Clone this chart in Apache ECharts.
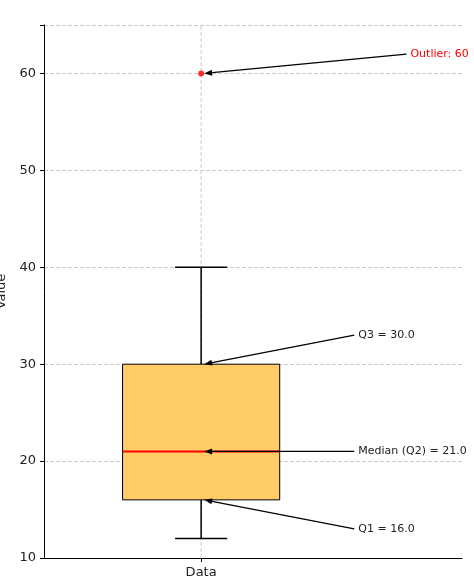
<!DOCTYPE html><html><head><meta charset="utf-8">
<script src="https://cdn.jsdelivr.net/npm/echarts@6/dist/echarts.min.js"></script>
<style>html,body{margin:0;padding:0;background:#fff}#c{width:474px;height:582px}</style></head><body><div id="c"></div>
<script>
const categories=['Data'];
const stats=[12,16,21,30,40]; // min,Q1,median,Q3,max
const outliers=[60];
const yTicks=[10,20,30,40,50,60];
const annotations=[
 {text:'Outlier: 60',tx:1.666,ty:62,px:1,py:60,color:'red'},
 {text:'Q3 = 30.0',tx:1.5,ty:33,px:1,py:30,color:'#222'},
 {text:'Median (Q2) = 21.0',tx:1.5,ty:21,px:1,py:21,color:'#222'},
 {text:'Q1 = 16.0',tx:1.5,ty:13,px:1,py:16,color:'#222'}
];
const chart=echarts.init(document.getElementById('c'));
function arrow(x1,y1,x2,y2){
 const a=Math.atan2(y2-y1,x2-x1),L=8,W=3;
 const bx=x2-L*Math.cos(a),by=y2-L*Math.sin(a);
 return [
  {type:'line',shape:{x1:x1,y1:y1,x2:bx,y2:by},style:{stroke:'#000',lineWidth:1.2}},
  {type:'polygon',shape:{points:[[x2,y2],[bx-W*Math.sin(a),by+W*Math.cos(a)],[bx+W*Math.sin(a),by-W*Math.cos(a)]]},style:{fill:'#000'}}
 ];
}
const F='DejaVu Sans';
chart.setOption({
 animation:false,
 textStyle:{fontFamily:F},
 grid:{left:44,right:12,top:25,bottom:24,containLabel:false,outerBoundsMode:'none'},
 xAxis:{type:'value',min:0.5,max:1.83,interval:0.5,
  axisLine:{show:true,lineStyle:{color:'#000'}},axisTick:{show:true,customValues:[1],length:4,lineStyle:{color:'#000'}},
  axisLabel:{customValues:[1],formatter:v=>v===1?categories[0]:'',fontSize:13,color:'#222',fontFamily:F},
  splitLine:{show:false}},
 yAxis:{type:'value',min:10,max:65,interval:10,name:'Value',nameLocation:'middle',nameGap:30,
  nameTextStyle:{fontSize:13,color:'#222',fontFamily:F},
  axisLine:{show:true,lineStyle:{color:'#000'}},axisTick:{show:true,length:4,lineStyle:{color:'#000'}},
  axisLabel:{fontSize:13,color:'#222',customValues:yTicks,fontFamily:F},
  splitLine:{show:true,lineStyle:{type:'dashed',color:'#ccc'}}},
 series:[
  {type:'line',data:[[1,10],[1,65]],symbol:'none',lineStyle:{type:'dashed',color:'#ccc',width:1},silent:true,z:0},
  {type:'custom',data:[[1].concat(stats)],clip:false,z:5,renderItem:(p,api)=>{
   const x=api.value(0),c=i=>api.coord([x,api.value(i)])[1];
   const cx=api.coord([x,0])[0],hw=api.size([0.25,0])[0],cw=api.size([0.083,0])[0];
   const [mn,q1,md,q3,mx]=[c(1),c(2),c(3),c(4),c(5)];
   return {type:'group',children:[
    {type:'line',shape:{x1:cx,y1:mx,x2:cx,y2:q3},style:{stroke:'#000',lineWidth:1.5}},
    {type:'line',shape:{x1:cx,y1:q1,x2:cx,y2:mn},style:{stroke:'#000',lineWidth:1.5}},
    {type:'line',shape:{x1:cx-cw,y1:mx,x2:cx+cw,y2:mx},style:{stroke:'#000',lineWidth:1.5}},
    {type:'line',shape:{x1:cx-cw,y1:mn,x2:cx+cw,y2:mn},style:{stroke:'#000',lineWidth:1.5}},
    {type:'rect',shape:{x:cx-hw,y:q3,width:2*hw,height:q1-q3},style:{fill:'#ffcc66',stroke:'#000',lineWidth:1}},
    {type:'line',shape:{x1:cx-hw,y1:md,x2:cx+hw,y2:md},style:{stroke:'red',lineWidth:2}}
   ]};
  }},
  {type:'scatter',data:outliers.map(v=>[1,v]),symbolSize:6,itemStyle:{color:'red'},z:6},
  {type:'custom',data:annotations.map(a=>[a.tx,a.ty,a.px,a.py]),clip:false,z:10,renderItem:(p,api)=>{
   const a=annotations[p.dataIndex];
   const t=api.coord([a.tx,a.ty]),pt=api.coord([a.px,a.py]);
   return {type:'group',children:[
    ...arrow(t[0]-4,t[1],pt[0]+3,pt[1]),
    {type:'text',style:{x:t[0],y:t[1],text:a.text,fill:a.color,fontSize:11,fontFamily:F,align:'left',verticalAlign:'middle'}}
   ]};
  }}
 ]
});
</script></body></html>
